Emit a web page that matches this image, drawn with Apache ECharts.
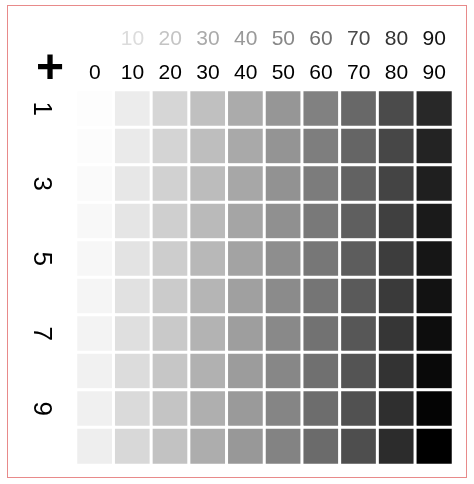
<!DOCTYPE html>
<html>
<head>
    <meta charset="utf-8">
    <title>ECharts</title>
    <script type="text/javascript" src="https://cdn.jsdelivr.net/npm/echarts@6/dist/echarts.min.js"></script>
    <style>
        body { margin: 0; background: #fff; }
        #frame { position: absolute; left: 7px; top: 5px; width: 460px; height: 473px; border: 1.5px solid #e88a8a; box-sizing: border-box; z-index: 5; pointer-events: none; }
        #main { position: absolute; left: 0; top: 0; }
    </style>
</head>
<body>
    <div id="frame"></div>
    <div id="main" style="width: 474px;height:484px;"></div>
    <script type="text/javascript">
    var colLabels = ['0', '10', '20', '30', '40', '50', '60', '70', '80', '90'];
    var grayLabels = ['', '10', '20', '30', '40', '50', '60', '70', '80', '90'];
    var grayColors = ['#fff', '#dcdcdc', '#c4c4c4', '#aaaaaa', '#999999', '#888888', '#707070', '#4a4a4a', '#333333', '#111111'];
    var rowLabels = ['1', '2', '3', '4', '5', '6', '7', '8', '9', '10'];
    // sums: row value + column value
    var row1 = [1, 11, 21, 31, 41, 51, 61, 71, 81, 91];
    var row2 = [2, 12, 22, 32, 42, 52, 62, 72, 82, 92];
    var row3 = [3, 13, 23, 33, 43, 53, 63, 73, 83, 93];
    var row4 = [4, 14, 24, 34, 44, 54, 64, 74, 84, 94];
    var row5 = [5, 15, 25, 35, 45, 55, 65, 75, 85, 95];
    var row6 = [6, 16, 26, 36, 46, 56, 66, 76, 86, 96];
    var row7 = [7, 17, 27, 37, 47, 57, 67, 77, 87, 97];
    var row8 = [8, 18, 28, 38, 48, 58, 68, 78, 88, 98];
    var row9 = [9, 19, 29, 39, 49, 59, 69, 79, 89, 99];
    var row10 = [10, 20, 30, 40, 50, 60, 70, 80, 90, 100];
    var rows = [row1, row2, row3, row4, row5, row6, row7, row8, row9, row10];

    var data = [];
    rows.forEach(function (r, y) {
        r.forEach(function (v, x) { data.push([x, y, v]); });
    });

    var myChart = echarts.init(document.getElementById('main'));
    var font = 'Liberation Sans, Arial, sans-serif';
    option = {
        backgroundColor: 'transparent',
        animation: false,
        grid: { left: 76, right: 21, top: 90, bottom: 19 },
        xAxis: [
            {
                type: 'category', position: 'top', data: colLabels,
                axisLine: { show: false }, axisTick: { show: false }, splitLine: { show: false },
                axisLabel: { color: '#000', fontSize: 21, fontFamily: font, margin: 6 }
            },
            {
                type: 'category', position: 'top', offset: 34, data: grayLabels,
                axisLine: { show: false }, axisTick: { show: false }, splitLine: { show: false },
                axisLabel: {
                    fontSize: 21, fontFamily: font, margin: 6,
                    color: function (v, i) { return grayColors[i]; }
                }
            }
        ],
        yAxis: {
            type: 'category', inverse: true, data: rowLabels,
            axisLine: { show: false }, axisTick: { show: false }, splitLine: { show: false },
            axisLabel: { color: '#000', fontSize: 26, fontFamily: font, rotate: -90, margin: 22 }
        },
        visualMap: {
            show: false, min: 0, max: 100, dimension: 2,
            inRange: { color: ['#ffffff', '#eeeeee', '#d8d8d8', '#c2c2c2', '#adadad', '#989898', '#838383', '#6b6b6b', '#4e4e4e', '#2c2c2c', '#000000'] }
        },
        graphic: [{
            type: 'text', left: 36, top: 46,
            style: { text: '+', fontSize: 48, fontWeight: 'bold', fontFamily: font, fill: '#000' }
        }],
        series: [{
            type: 'heatmap', data: data,
            itemStyle: { borderColor: '#fff', borderWidth: 3 }
        }]
    };
    myChart.setOption(option);
    </script>
</body>
</html>
